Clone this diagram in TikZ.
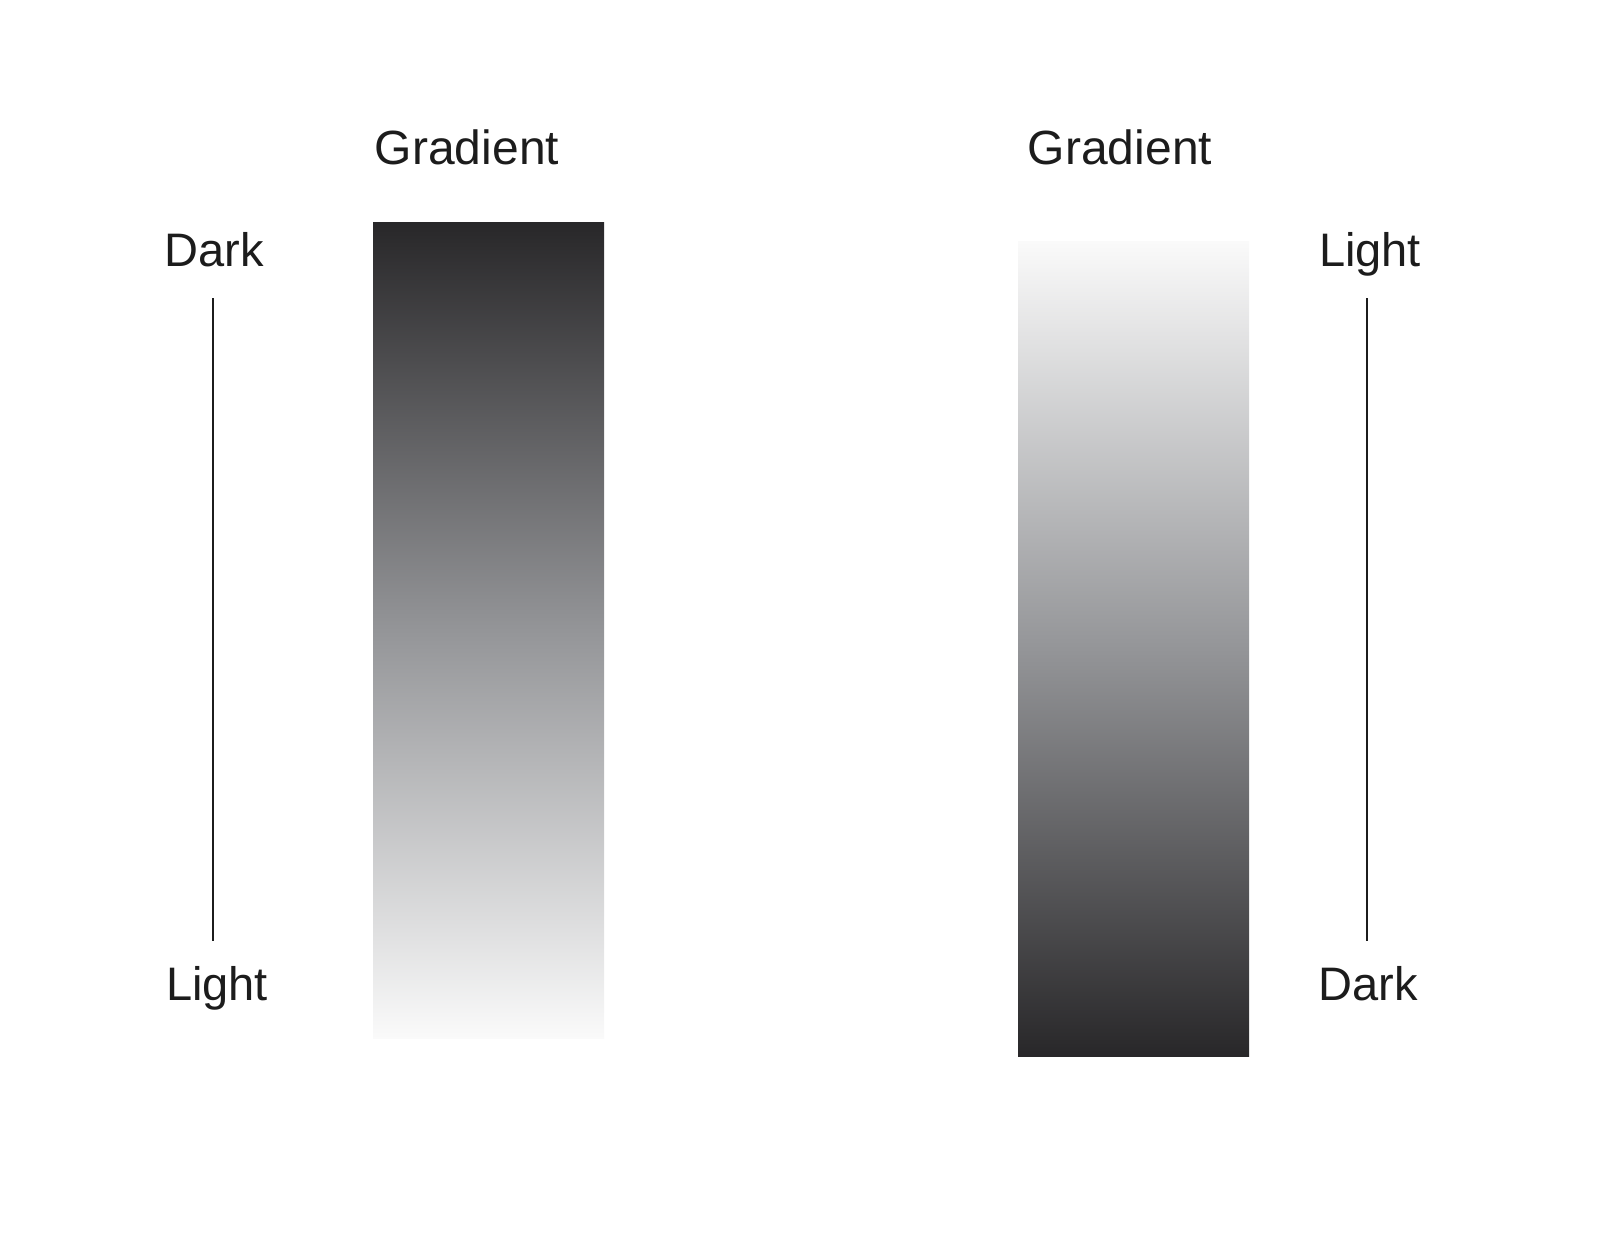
\documentclass[tikz,border=0pt]{standalone}
\usepackage{fontspec}
\setmainfont{Liberation Sans}
\definecolor{inkc}{RGB}{28,28,28}
\definecolor{darkc}{RGB}{40,39,41}
\definecolor{lightc}{RGB}{250,250,250}
\definecolor{midc}{RGB}{148,149,152}
\begin{document}
\begin{tikzpicture}[x=1pt,y=-1pt,
  lbl/.style={inner sep=0pt, anchor=base, text=inkc, font=\fontsize{47}{52}\selectfont},
  ttl/.style={inner sep=0pt, anchor=base, text=inkc, font=\fontsize{48}{54}\selectfont},
  scale line/.style={line width=1.6pt, draw=inkc},
  bar/.style={draw=none, minimum width=231pt, minimum height=816pt, inner sep=0pt}]
\useasboundingbox (0,0) rectangle (1600,1237);
% left
\node[ttl] (g1) at (467,164) {Gradient};
\node[bar, anchor=north west, top color=darkc, bottom color=lightc, middle color=midc] (r1) at (373,222) {};
\node[lbl] (d1) at (214,266) {Dark};
\node[lbl] (l1) at (217,1000) {Light};
\coordinate (a1) at (213,298);
\coordinate (b1) at (213,941);
\draw[scale line] (a1) -- (b1);
% right
\node[ttl] (g2) at (1120,164) {Gradient};
\node[bar, anchor=north west, top color=lightc, bottom color=darkc, middle color=midc, minimum height=815pt] (r2) at (1018,241) {};
\node[lbl] (l2) at (1370,266) {Light};
\node[lbl] (d2) at (1368,1000) {Dark};
\coordinate (a2) at (1367,298);
\coordinate (b2) at (1367,941);
\draw[scale line] (a2) -- (b2);
\end{tikzpicture}
\end{document}
